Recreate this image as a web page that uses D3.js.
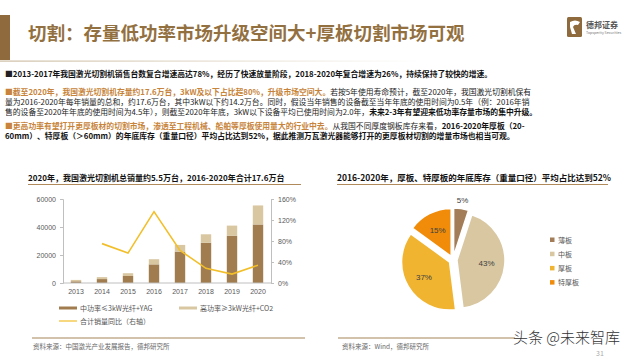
<!DOCTYPE html>
<html><head><meta charset="utf-8">
<script src="https://cdn.jsdelivr.net/npm/d3@7"></script>
<style>
html,body{margin:0;padding:0;background:#fff;}
svg{display:block;font-family:"Noto Sans CJK SC","Noto Sans",sans-serif;}
</style></head>
<body>
<svg id="c" width="640" height="360"></svg>
<script>
// ---- data ----
const years = ["2013","2014","2015","2016","2017","2018","2019","2020"];
const midPower = [1200, 2800, 5000, 13300, 22400, 28700, 33800, 41800];      // 中功率≤3kW光纤+YAG
const highPower = [1000, 1400, 2000, 3700, 4800, 6100, 7200, 13600];        // 高功率≥3kW光纤+CO2
const growth = [null, 75, 57, 136, 62, 28, 17, 34];                          // 合计销量同比 (%)
const leftTicks = [0, 20000, 40000, 60000];
const rightTicks = [0, 40, 80, 120, 160];
const seriesNames = ["中功率≤3kW光纤+YAG", "高功率≥3kW光纤+CO2", "合计销量同比（右轴）"];

const plateNames = ["薄板", "中板", "厚板", "特厚板"];
const plateShares = [5, 43, 37, 15];

const svg = d3.select("#c");
const brown = "#93703f";
const cDark = "#a07c4e", cLight = "#d9c7a2", cLine = "#f2bf2a";
const pieColors = ["#a27d57", "#d8c7a1", "#f0b431", "#f08c0a"];

// ---- header ----
const grad = svg.append("defs").append("linearGradient").attr("id","hg");
grad.append("stop").attr("offset","0%").attr("stop-color","#cdbda3");
grad.append("stop").attr("offset","100%").attr("stop-color","#ffffff");
svg.append("rect").attr("x",0).attr("y",15).attr("width",10).attr("height",45).attr("fill","#8e6a3c");
svg.append("rect").attr("x",0).attr("y",60.5).attr("width",420).attr("height",1.2).attr("fill","url(#hg)");
svg.append("text").attr("x",28).attr("y",40).attr("font-size",18.5).attr("font-weight","bold")
  .attr("fill",brown).text("切割：存量低功率市场升级空间大+厚板切割市场可观");
// logo
const lg = svg.append("g");
lg.append("rect").attr("x",567).attr("y",17).attr("width",15).attr("height",20).attr("rx",1.5).attr("fill","#8e6a3c");
lg.append("path").attr("d","M570,22 Q575,19 580,22 L578,25 Q574,24 573,27 L576,34 L572,34 L570,27 Z").attr("fill","#fff");
lg.append("text").attr("x",586).attr("y",28).attr("font-size",8).attr("font-weight","bold").attr("fill","#555").text("德邦证券");
lg.append("text").attr("x",586).attr("y",33.5).attr("font-size",3.6).attr("fill","#777").text("Topsperity Securities");

// ---- bullet paragraphs ----
const orange = "#c7843a";
const paras = [
  {y:77, parts:[["■","#222",true],["2013-2017年我国激光切割机销售台数复合增速高达78%，经历了快速放量阶段，2018-2020年复合增速为26%，持续保持了较快的增速。","#111",true]]},
  {y:95, parts:[["■截至2020年，我国激光切割机存量约17.6万台，3kW及以下占比超80%，升级市场空间大。",orange,true],["若按5年使用寿命预计，截至2020年，我国激光切割机保有","#222",false]]},
  {y:104.8, parts:[["量为2016-2020年每年销量的总和，约17.6万台，其中3kW以下约14.2万台。同时，假设当年销售的设备截至当年年底的使用时间为0.5年（例：2016年销","#222",false]]},
  {y:114.6, parts:[["售的设备至2020年年底的使用时间为4.5年），则截至2020年年底，3kW以下设备平均已使用时间为2.0年，","#222",false],["未来2-3年有望迎来低功率存量市场的集中升级。","#111",true]]},
  {y:129, parts:[["■更高功率有望打开更厚板材的切割市场，渗透至工程机械、船舶等厚板使用量大的行业中去。",orange,true],["从我国不同厚度钢板库存来看，","#222",false],["2016-2020年厚板（20-","#111",true]]},
  {y:138.8, parts:[["60mm）、特厚板（＞60mm）的年底库存（重量口径）平均占比达到52%，据此推测万瓦激光器能够打开的更厚板材切割的增量市场也相当可观。","#111",true]]}
];
paras.forEach(p=>{
  const t = svg.append("text").attr("x",5).attr("y",p.y).attr("font-size",7.8);
  p.parts.forEach(([s,c,b])=>t.append("tspan").attr("fill",c).attr("font-weight",b?"bold":"normal").text(s));
});

// ---- left chart ----
svg.append("text").attr("x",28).attr("y",181).attr("font-size",8).attr("font-weight","bold").attr("fill","#111")
  .text("2020年，我国激光切割机总销量约5.5万台，2016-2020年合计17.6万台");
svg.append("line").attr("x1",28).attr("x2",301).attr("y1",184.5).attr("y2",184.5).attr("stroke","#b08a5a").attr("stroke-width",1.2);

const x = d3.scaleBand().domain(years).range([63,271]).paddingInner(0.6).paddingOuter(0.3);
const y = d3.scaleLinear().domain([0,60000]).range([283,199]);
const y2 = d3.scaleLinear().domain([0,160]).range([283,199]);

const tbl = years.map((yr,i)=>({year:yr, mid:midPower[i], high:highPower[i]}));
const stack = d3.stack().keys(["mid","high"])(tbl);
const cols = [cDark, cLight];
svg.append("g").selectAll("g").data(stack).join("g").attr("fill",(d,i)=>cols[i])
  .selectAll("rect").data(d=>d).join("rect")
  .attr("x",d=>x(d.data.year)).attr("width",x.bandwidth())
  .attr("y",d=>y(d[1])).attr("height",d=>y(d[0])-y(d[1]));

const axL = svg.append("g").attr("transform","translate(63,0)")
  .call(d3.axisLeft(y).tickValues(leftTicks).tickSize(3).tickPadding(4).tickFormat(d3.format("d")));
const axR = svg.append("g").attr("transform","translate(271,0)")
  .call(d3.axisRight(y2).tickValues(rightTicks).tickSize(3).tickPadding(4).tickFormat(d=>d+"%"));
const axB = svg.append("g").attr("transform","translate(0,283)")
  .call(d3.axisBottom(x).tickSize(0).tickPadding(6));
axB.select(".domain").attr("d","M63,0H271");
[axL,axR,axB].forEach(a=>{
  a.selectAll("path,line").attr("stroke","#bfbfbf");
  a.selectAll("text").attr("font-size",7).attr("fill","#595959").attr("font-family","Liberation Sans, Arial, sans-serif");
});

const line = d3.line().defined(d=>d.v!=null).x(d=>x(d.year)+x.bandwidth()/2).y(d=>y2(d.v));
svg.append("path").datum(years.map((yr,i)=>({year:yr, v:growth[i]})))
  .attr("d",line).attr("fill","none").attr("stroke",cLine).attr("stroke-width",1.6);

// legend
const lgd = svg.append("g").attr("font-size",7).attr("fill","#555");
const legItems = [
  {x:59, y:308, c:cDark, w:3, n:seriesNames[0]},
  {x:179, y:308, c:cLight, w:3, n:seriesNames[1]},
  {x:59, y:321, c:cLine, w:1.2, n:seriesNames[2]}
];
legItems.forEach(it=>{
  lgd.append("line").attr("x1",it.x).attr("x2",it.x+18).attr("y1",it.y).attr("y2",it.y).attr("stroke",it.c).attr("stroke-width",it.w);
  lgd.append("text").attr("x",it.x+21).attr("y",it.y+2.5).text(it.n);
});
svg.append("line").attr("x1",32).attr("x2",305).attr("y1",338).attr("y2",338).attr("stroke","#a58559").attr("stroke-width",1.2);
svg.append("text").attr("x",33).attr("y",349).attr("font-size",6.5).attr("fill","#666").text("资料来源：中国激光产业发展报告，德邦研究所");

// ---- right chart ----
svg.append("text").attr("x",337).attr("y",181).attr("font-size",8.5).attr("font-weight","bold").attr("fill","#111")
  .text("2016-2020年，厚板、特厚板的年底库存（重量口径）平均占比达到52%");
svg.append("line").attr("x1",337).attr("x2",608).attr("y1",184.5).attr("y2",184.5).attr("stroke","#b08a5a").attr("stroke-width",1.2);

const cx = 453, cy = 260, R = 48, ex = 4;
const pie = d3.pie().sort(null).value(d=>d.v);
const arcs = pie(plateNames.map((n,i)=>({n, v:plateShares[i]})));
const arc = d3.arc().innerRadius(0).outerRadius(R);
const pg = svg.append("g").attr("transform",`translate(${cx},${cy})`);
arcs.forEach((a,i)=>{
  const mid = (a.startAngle+a.endAngle)/2;
  const dx = Math.sin(mid)*ex, dy = -Math.cos(mid)*ex;
  const g = pg.append("g").attr("transform",`translate(${dx},${dy})`);
  g.append("path").attr("d",arc(a)).attr("fill",pieColors[i]).attr("stroke","#fff").attr("stroke-width",1.5);
  const small = a.data.v < 8;
  const rr = small ? R+9 : R*0.62;
  g.append("text").attr("x",Math.sin(mid)*rr).attr("y",-Math.cos(mid)*rr+3)
    .attr("text-anchor","middle").attr("font-size",8).attr("fill","#404040")
    .attr("font-family","Liberation Sans, Arial, sans-serif").text(a.data.v+"%");
});
const pl = svg.append("g");
plateNames.forEach((n,i)=>{
  const yy = 240 + i*14.2;
  pl.append("rect").attr("x",550).attr("y",yy-2.5).attr("width",4.5).attr("height",4.5).attr("fill",pieColors[i]);
  pl.append("text").attr("x",558).attr("y",yy+2.5).attr("font-size",7).attr("fill","#555").text(n);
});
svg.append("line").attr("x1",338).attr("x2",515).attr("y1",338).attr("y2",338).attr("stroke","#a58559").attr("stroke-width",1.2);
svg.append("text").attr("x",342).attr("y",349).attr("font-size",6.5).attr("fill","#666").text("资料来源：Wind，德邦研究所");

// watermark + page number
svg.append("text").attr("x",513).attr("y",343).attr("font-size",15).attr("fill","#333").attr("font-weight",300).text("头条 @未来智库");
svg.append("text").attr("x",596).attr("y",356).attr("font-size",7).attr("fill","#aaa").text("31");
</script>
</body></html>
